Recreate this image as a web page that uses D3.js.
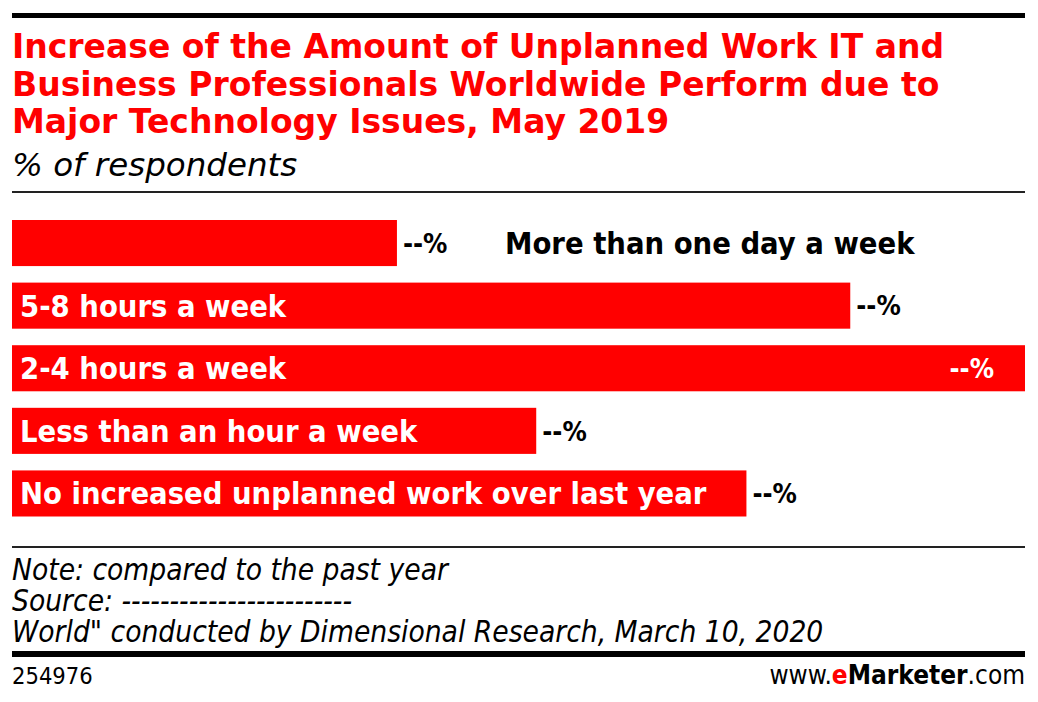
<!DOCTYPE html>
<html><head><meta charset="utf-8">
<script src="https://cdn.jsdelivr.net/npm/d3@7"></script>
<style>
body{margin:0;background:#fff;}
svg{display:block;}
</style></head>
<body>
<svg id="chart" width="1038" height="702"></svg>
<script>
const categories = ["More than one day a week","5-8 hours a week","2-4 hours a week","Less than an hour a week","No increased unplanned work over last year"];
const values = [15.2, 33.1, 40, 20.7, 29];
const valueLabels = ["--%","--%","--%","--%","--%"];
const titleLines = ["Increase of the Amount of Unplanned Work IT and","Business Professionals Worldwide Perform due to","Major Technology Issues, May 2019"];
const subtitle = "% of respondents";
const noteLines = ["Note: compared to the past year","Source: ------------------------","World\" conducted by Dimensional Research, March 10, 2020"];
const chartId = "254976";

const svg = d3.select("#chart");
const L = 12, R = 1025;
const red = "#ff0000";
const narrow = "'Liberation Sans Narrow','DejaVu Sans Condensed','Roboto Condensed',sans-serif";

svg.append("rect").attr("x",L).attr("y",13).attr("width",R-L).attr("height",5).attr("fill","#000");

const tg = svg.append("g");
titleLines.forEach((t,i)=>{
  tg.append("text").attr("x",L).attr("y",58+i*37.5).text(t)
    .attr("font-family","'DejaVu Sans',sans-serif").attr("font-weight","bold").attr("font-size",33)
    .attr("fill",red);
});
svg.append("text").attr("x",L).attr("y",176).text(subtitle)
  .attr("font-family","'DejaVu Sans',sans-serif").attr("font-style","italic").attr("font-size",32.5).attr("fill","#000");
svg.append("rect").attr("x",L).attr("y",191).attr("width",R-L).attr("height",2).attr("fill","#222");

const x = d3.scaleLinear().domain([0,40]).range([L,R]);
const y = d3.scaleBand().domain(categories).range([220,516.5]).paddingInner(0.264).paddingOuter(0);

const bars = svg.append("g");
categories.forEach((c,i)=>{
  const w = x(values[i]) - x(0);
  const by = y(c), bh = y.bandwidth();
  bars.append("rect").attr("x",x(0)).attr("y",by).attr("width",w).attr("height",bh).attr("fill",red);
  const inside = i !== 0;
  bars.append("text").attr("x", inside ? x(0)+8 : 505).attr("y",by+bh/2).attr("dy","0.36em")
    .text(c).attr("font-family",narrow).attr("font-weight","bold").attr("font-size",30.6)
    .attr("fill", inside ? "#fff" : "#000");
  const valInside = values[i] === d3.max(values);
  bars.append("text").attr("x", valInside ? x(values[i])-31 : x(values[i])+6).attr("y",by+bh/2).attr("dy","0.36em")
    .attr("text-anchor", valInside ? "end" : "start")
    .text(valueLabels[i]).attr("font-family",narrow).attr("font-weight","bold").attr("font-size",27)
    .attr("fill", valInside ? "#fff" : "#000");
});

svg.append("rect").attr("x",L).attr("y",546).attr("width",R-L).attr("height",2).attr("fill","#222");
noteLines.forEach((t,i)=>{
  svg.append("text").attr("x",L).attr("y",580+i*31).text(t)
    .attr("font-family",narrow).attr("font-style","italic").attr("font-size",29.6).attr("fill","#000");
});
svg.append("rect").attr("x",L).attr("y",651).attr("width",R-L).attr("height",6).attr("fill","#000");
svg.append("text").attr("x",L).attr("y",684).text(chartId)
  .attr("font-family",narrow).attr("font-size",23.5).attr("fill","#000");
const brand = svg.append("text").attr("x",R).attr("y",684).attr("text-anchor","end")
  .attr("font-family",narrow).attr("font-size",26).attr("fill","#000");
brand.append("tspan").text("www.");
brand.append("tspan").text("e").attr("fill",red).attr("font-weight","bold");
brand.append("tspan").text("Marketer").attr("font-weight","bold");
brand.append("tspan").text(".com");
</script>
</body></html>
